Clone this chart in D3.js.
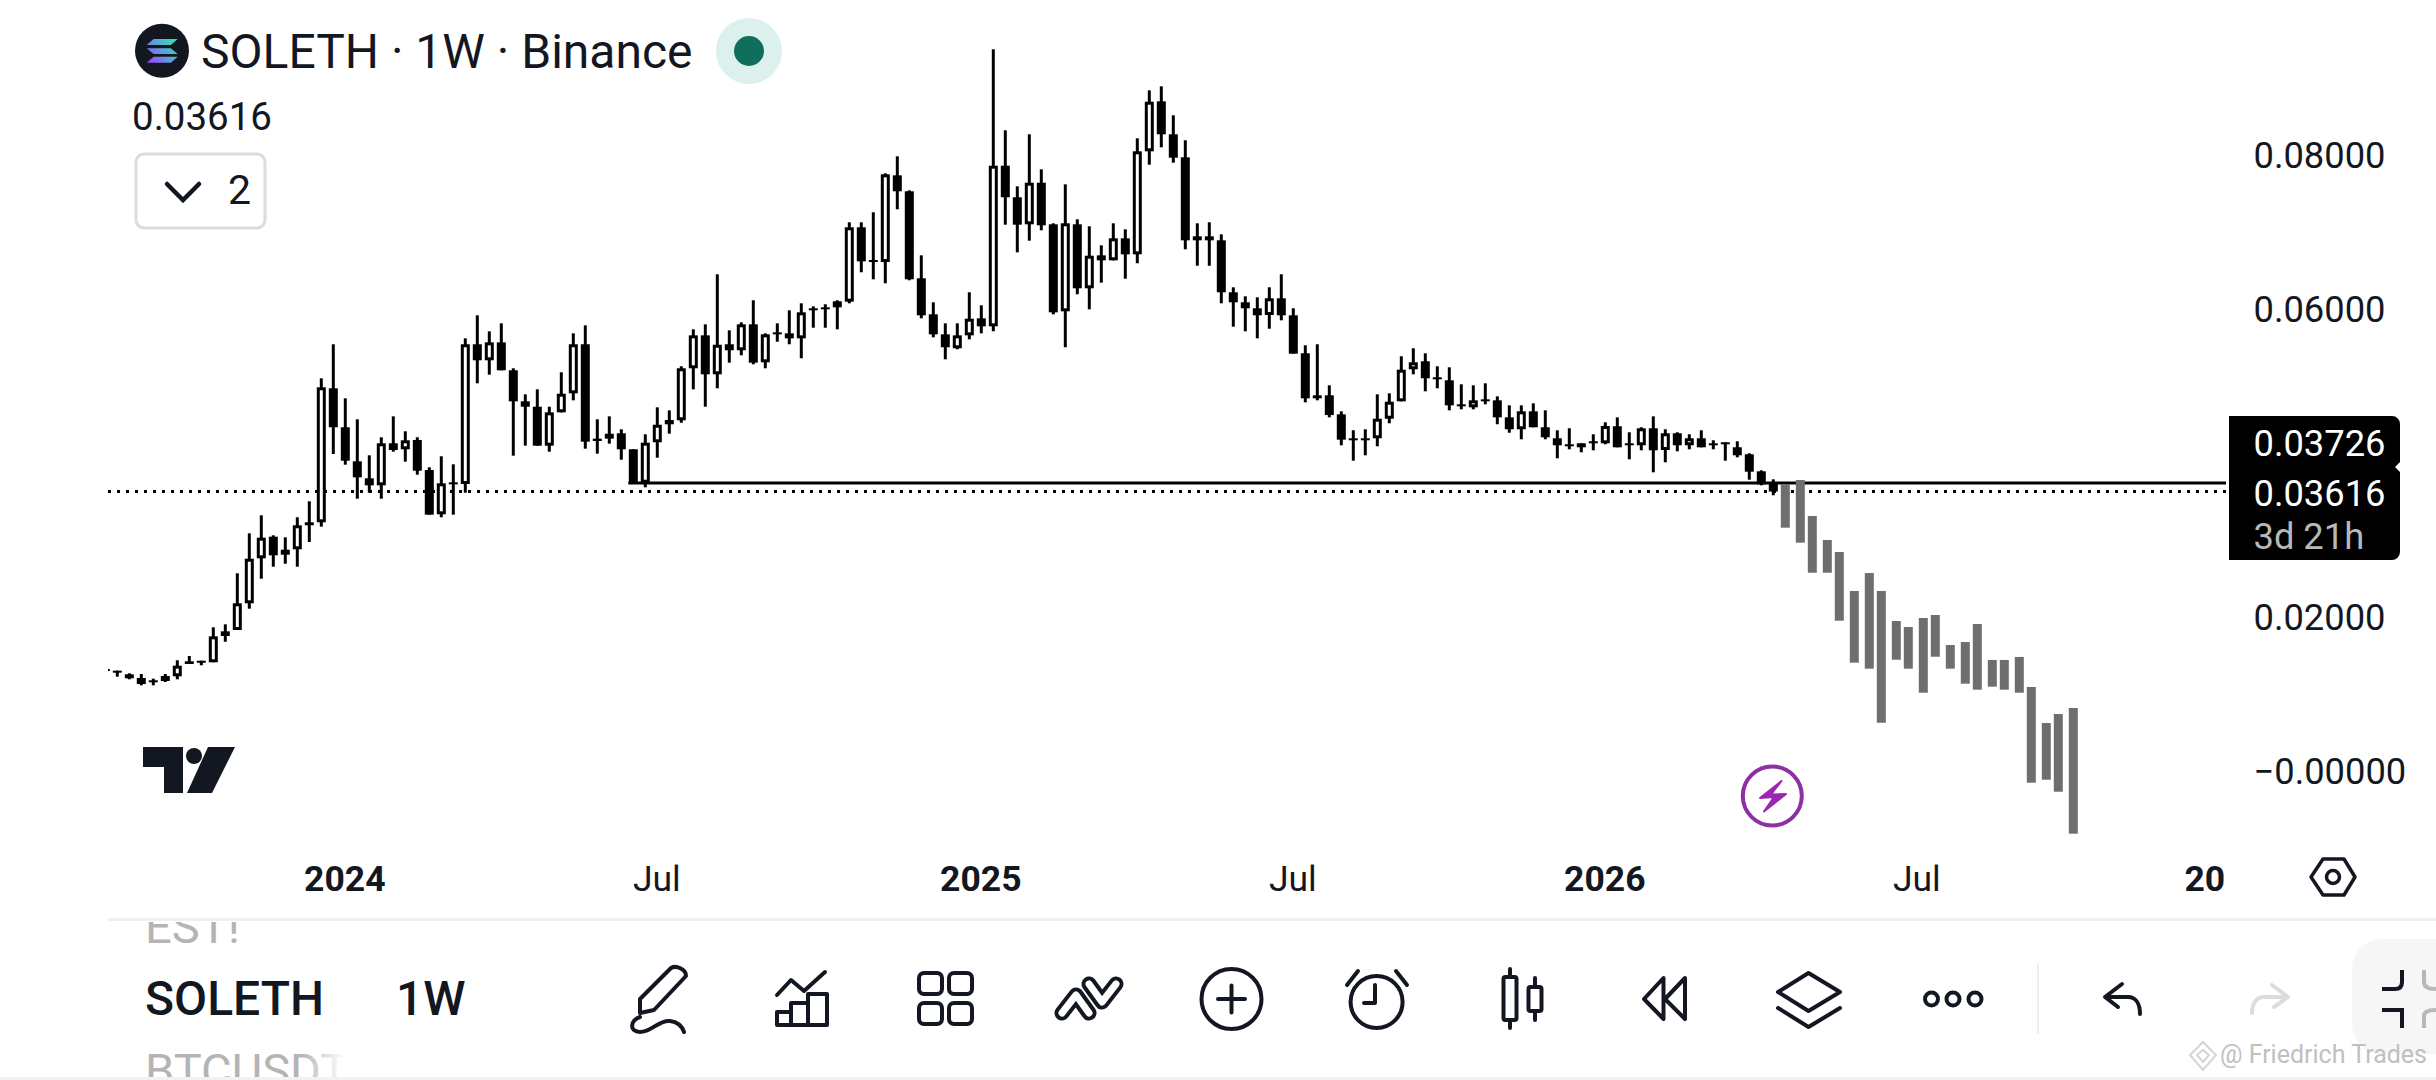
<!DOCTYPE html>
<html><head><meta charset="utf-8">
<script src="https://cdn.jsdelivr.net/npm/d3@7/dist/d3.min.js"></script>
<style>html,body{margin:0;padding:0;background:#fff}svg{display:block}text{font-family:Roboto,sans-serif}</style>
</head><body><svg id="c" width="2436" height="1080"></svg>
<script>
// Weekly candles, values in units of 0.00001 (SOL/ETH)
const highs=[1321,1290,1256,1247,1186,1247,1425,1481,1419,1853,
1892,2555,3074,3308,3048,3022,3282,3490,5087,5529,
4827,4555,4087,4321,4593,4399,4321,3931,4074,3970,
5606,5905,5697,5801,5217,4879,4944,4718,5165,5671,
5775,4555,4593,4425,4165,4360,4710,4671,5243,5723,
5788,6438,5710,5814,6100,5671,5801,5970,6061,6022,
6048,6100,7113,7113,7243,7749,7970,7528,6684,6074,
5801,5801,6204,6035,9360,8308,7580,8256,7801,7100,
7606,7152,7061,6814,7100,7022,8204,8827,8879,8503,
8178,7100,7113,6957,6269,6152,6139,6269,6438,5996,
5516,5529,4996,4658,4412,4425,4879,4892,5373,5477,
5412,5243,5230,5009,4996,5022,4853,4736,4736,4762,
4671,4412,4438,4243,4360,4516,4580,4386,4451,4593,
4425,4386,4360,4412,4282,4256,4269,4113,3892,3775];
const lows=[1290,1212,1178,1100,1100,1143,1178,1377,1360,1399,
1666,1818,2095,2484,2640,2679,2640,2961,3160,4104,
3965,3523,3601,3523,4134,4004,3835,3316,3282,3316,
3601,5022,5134,5191,4082,4212,4212,4134,4645,4801,
4173,4108,4238,4030,3731,3671,4056,4368,4510,4944,
4718,4957,5290,5386,5269,5217,5562,5529,5347,5744,
5744,5723,6061,6464,6373,6321,7282,6360,5866,5619,
5334,5464,5593,5671,5697,7082,6723,6874,7009,5918,
5490,6178,5983,6329,6619,6380,6581,7861,8087,7887,
6762,6549,6549,6061,5757,5697,5606,5731,5840,5407,
4775,4801,4580,4217,4017,4087,4204,4503,4788,5139,
4918,4957,4671,4684,4684,4749,4490,4380,4295,4451,
4295,4048,4165,4126,4152,4230,4191,4035,4152,3866,
3996,4139,4165,4191,4165,4017,4061,3770,3697,3568];
const opens=[1312,1290,1243,1195,1165,1221,1217,1412,1419,1399,
1740,1818,2165,2749,3030,2796,2866,3217,3217,4957,
4451,4009,3788,3697,4243,4165,4286,3896,3321,3736,
3714,5529,5321,5554,5191,4788,4718,4212,4645,4892,
5529,4303,4367,4373,4165,3731,4256,4545,4542,5217,
5645,5139,5529,5451,5788,5295,5684,5671,5606,5996,
6009,6009,6082,7048,6623,6597,7723,7516,6386,5918,
5658,5477,5645,5866,5762,7848,7438,7087,7627,7087,
5957,7087,6256,6684,6619,6905,6697,8035,8684,8256,
7957,6931,6931,6879,6204,6074,5996,5909,6126,5905,
5412,4866,4866,4619,4308,4308,4308,4562,4788,5204,
5308,5100,5061,4749,4710,4814,4801,4580,4425,4658,
4451,4308,4230,4243,4269,4243,4464,4243,4217,4438,
4156,4373,4217,4308,4243,4256,4191,4100,3879,3723];
const closes=[1299,1264,1191,1117,1139,1156,1355,1377,1394,1736,
1801,2165,2744,3017,2788,2861,3178,3178,4970,4451,
4017,3801,3697,4243,4156,4282,3887,3316,3723,3710,
5529,5321,5554,5191,4788,4718,4212,4645,4887,5529,
4264,4273,4303,4165,3731,4251,4484,4490,5217,5645,
5139,5523,5451,5788,5290,5658,5658,5606,5944,5970,
5987,6087,7048,6606,6597,7736,7516,6373,5905,5658,
5490,5645,5861,5762,7848,7438,7082,7627,7074,5944,
7100,6256,6679,6619,6905,6697,8035,8679,8256,7952,
6879,6879,6879,6204,6074,5996,5905,6126,5905,5407,
4827,4827,4610,4290,4282,4282,4562,4783,5199,5295,
5087,5074,4736,4723,4801,4788,4580,4425,4658,4451,
4321,4217,4204,4191,4243,4468,4191,4217,4438,4152,
4373,4217,4308,4191,4217,4230,4087,3874,3710,3616];
// Projected "bars pattern" (grey)
const projPos=[140,141.25,142.25,143.5,144.5,145.75,147,148,149.25,150.25,151.5,152.5,153.75,155,156,157.25,158.25,159.5,160.5,161.75,162.75,164];
const projTop=[3714,3766,3299,2987,2831,2325,2558,2325,1935,1857,1974,2013,1623,1662,1896,1429,1429,1468,1078,610,727,805];
const projBot=[3147,2952,2562,2562,1939,1394,1316,614,1432,1316,1004,1471,1316,1121,1043,1082,1043,1004,-165,-126,-282,-827];
const unit=1e-5;
const priceTicks=[0.08,0.06,0.02,0];
const priceLabels=["0.08000","0.06000","0.02000","\u22120.00000"];
const timeTicks=[20,46,73,99,125,151,175];
const timeLabels=["2024","Jul","2025","Jul","2026","Jul","20"];
const boldTicks=["2024","2025","2026","20"];
const levelPrice=0.03726, lastPrice=0.03616, levelStart=44;

const INK="#131722";
const svg=d3.select("#c");
const defs=svg.append("defs");
const x=d3.scaleLinear().domain([0,193]).range([105.3,105.3+12*193]);
const y=d3.scaleLinear().domain([0,0.08]).range([770,154]);
const PLOT_L=108,PLOT_R=2226;
defs.append("clipPath").attr("id","plot").append("rect").attr("x",PLOT_L).attr("y",0).attr("width",PLOT_R-PLOT_L).attr("height",900);

const plot=svg.append("g").attr("clip-path","url(#plot)");
// price lines
plot.append("line").attr("x1",PLOT_L).attr("x2",PLOT_R).attr("y1",y(lastPrice)).attr("y2",y(lastPrice))
  .attr("stroke","#000").attr("stroke-width",3).attr("stroke-dasharray","3 6");
plot.append("line").attr("x1",x(levelStart)-5).attr("x2",PLOT_R).attr("y1",y(levelPrice)).attr("y2",y(levelPrice))
  .attr("stroke","#000").attr("stroke-width",3);
// projection bars
plot.append("g").selectAll("rect").data(projPos).join("rect")
  .attr("x",d=>x(d)-4.5).attr("width",9)
  .attr("y",(d,i)=>y(projTop[i]*unit)).attr("height",(d,i)=>y(projBot[i]*unit)-y(projTop[i]*unit))
  .attr("fill","#6e6e6e");
// candles
const candles=highs.map((h,i)=>({i,h:h*unit,l:lows[i]*unit,o:opens[i]*unit,c:closes[i]*unit}));
const cg=plot.append("g").selectAll("g").data(candles).join("g");
cg.append("line").attr("x1",d=>x(d.i)).attr("x2",d=>x(d.i)).attr("y1",d=>y(d.h)).attr("y2",d=>y(d.l))
  .attr("stroke","#000").attr("stroke-width",3);
cg.append("rect")
  .attr("x",d=>d.c>=d.o?x(d.i)-3:x(d.i)-4.5)
  .attr("width",d=>d.c>=d.o?6:9)
  .attr("y",d=>{const t=y(Math.max(d.o,d.c));return d.c>=d.o?t+1.5:t;})
  .attr("height",d=>{const t=y(Math.max(d.o,d.c)),b=y(Math.min(d.o,d.c));return d.c>=d.o?Math.max(b-t-3,0.5):Math.max(b-t,2);})
  .attr("fill",d=>d.c>=d.o?"#fff":"#000")
  .attr("stroke",d=>d.c>=d.o?"#000":"none").attr("stroke-width",3);

// price axis
const yAxis=d3.axisRight(y).tickValues(priceTicks).tickFormat((d,i)=>priceLabels[i]).tickSize(0).tickPadding(0);
const yg=svg.append("g").attr("transform","translate(2253.5,1.5)").call(yAxis);
yg.select(".domain").remove();
yg.selectAll("text").attr("font-family","Roboto").attr("font-size",36.3).attr("fill",INK);
// time axis
const xAxis=d3.axisBottom(x).tickValues(timeTicks).tickFormat((d,i)=>timeLabels[i]).tickSize(0).tickPadding(0);
const xg=svg.append("g").attr("transform","translate(-1,878.5)").call(xAxis);
xg.select(".domain").remove();
xg.selectAll("text").attr("y",0).attr("dy","0.35em").attr("font-family","Roboto").attr("font-size",35.5).attr("fill",INK)
  .attr("font-weight",function(){return boldTicks.includes(this.textContent)?700:400;});

// last price tags
svg.append("path").attr("fill","#000")
 .attr("d","M2229 416H2392a8 8 0 0 1 8 8V462l-5 5 5 5V552a8 8 0 0 1 -8 8H2229Z");
const tagText=(s,yy,fill)=>svg.append("text").attr("x",2253.5).attr("y",yy).attr("dy","0.35em").attr("font-size",36.3).attr("fill",fill).text(s);
tagText("0.03726",443,"#fff");
tagText("0.03616",493.5,"#fff");
tagText("3d 21h",536.5,"#b8b8b8");

// header
svg.append("circle").attr("cx",162).attr("cy",50.7).attr("r",27).attr("fill",INK);
const lg=defs.append("linearGradient").attr("id","sol").attr("gradientUnits","userSpaceOnUse").attr("x1",176).attr("y1",38).attr("x2",148).attr("y2",63);
lg.append("stop").attr("offset",0).attr("stop-color","#2fe8a5");
lg.append("stop").attr("offset",.5).attr("stop-color","#5f9fdc");
lg.append("stop").attr("offset",1).attr("stop-color","#a23ffb");
svg.append("path").attr("fill","url(#sol)").attr("d","M153.6 39H177.7L170.8 45H146.7ZM146.7 48.3H170.8L177.7 54H153.6ZM153.6 56.7H177.7L170.8 62.7H146.7Z");
svg.append("text").attr("x",201).attr("y",67.5).attr("font-size",48).attr("fill",INK).text("SOLETH · 1W · Binance");
svg.append("circle").attr("cx",749).attr("cy",51).attr("r",33).attr("fill","#dcf0ed");
svg.append("circle").attr("cx",749).attr("cy",51).attr("r",15).attr("fill","#0f6e5c");
svg.append("text").attr("x",132).attr("y",129.5).attr("font-size",38.5).attr("fill",INK).text("0.03616");
svg.append("rect").attr("x",136).attr("y",154).attr("width",129).attr("height",74).attr("rx",8).attr("fill","#fff").attr("stroke","#dcdcdc").attr("stroke-width",3);
svg.append("path").attr("d","M167 184L183 200L199 184").attr("fill","none").attr("stroke",INK).attr("stroke-width",4.5).attr("stroke-linecap","round");
svg.append("text").attr("x",228).attr("y",204).attr("font-size",41).attr("fill",INK).text("2");

// TradingView logo
const tv=svg.append("g").attr("fill","#131722");
tv.append("path").attr("d","M143 747H183V793H164V767H143Z");
tv.append("circle").attr("cx",194).attr("cy",756).attr("r",8);
tv.append("path").attr("d","M208 747H235L212 793H187Z");

// bolt icon
svg.append("circle").attr("cx",1772.3).attr("cy",796).attr("r",29.5).attr("fill","#fff").attr("stroke","#8e2fa3").attr("stroke-width",4);
svg.append("path").attr("fill","#9c27b0").attr("stroke","#9c27b0").attr("stroke-width",2).attr("stroke-linejoin","round").attr("d","M1781.5 781L1760 798L1774 797L1764 811.5L1786 794L1771 794.5Z");

// hex settings
svg.append("path").attr("fill","none").attr("stroke",INK).attr("stroke-width",3.5).attr("stroke-linejoin","round").attr("d","M2311 877L2323 859H2344L2355 877L2344 895H2323Z");
svg.append("circle").attr("cx",2333).attr("cy",877).attr("r",6.5).attr("fill","none").attr("stroke",INK).attr("stroke-width",3.5);

// separators
svg.append("rect").attr("x",108).attr("y",918).attr("width",2328).attr("height",3).attr("fill","#f0f0f0");
svg.append("rect").attr("x",0).attr("y",1077).attr("width",2436).attr("height",3).attr("fill","#f2f2f2");

// toolbar left text
defs.append("clipPath").attr("id","tb").append("rect").attr("x",140).attr("y",922).attr("width",360).attr("height",155);
const fade=defs.append("linearGradient").attr("id","fadeR").attr("gradientUnits","userSpaceOnUse").attr("x1",300).attr("x2",345).attr("y1",0).attr("y2",0);
fade.append("stop").attr("offset",0).attr("stop-color","#b4b4b4");fade.append("stop").attr("offset",1).attr("stop-color","#fff");
const tb=svg.append("g").attr("clip-path","url(#tb)");
tb.append("text").attr("x",145).attr("y",943).attr("font-size",47).attr("fill","#b4b4b4").text("EST!");
tb.append("text").attr("x",145).attr("y",1015).attr("font-size",48).attr("font-weight",500).attr("fill",INK).text("SOLETH");
tb.append("text").attr("x",396).attr("y",1015).attr("font-size",48).attr("font-weight",500).attr("fill",INK).text("1W");
tb.append("text").attr("x",145).attr("y",1087).attr("font-size",47).attr("fill","url(#fadeR)").text("BTCUSDT");

// toolbar icons
const ic=svg.append("g").attr("fill","none").attr("stroke",INK).attr("stroke-width",4).attr("stroke-linejoin","round").attr("stroke-linecap","round");
ic.append("path").attr("d","M640 1013V999L671 968C676 965 686 969 686 976L654 1010Z");
ic.append("path").attr("d","M640 1017C630 1020 629 1032 640 1032C652 1032 658 1020 670 1021C678 1022 682 1026 684 1032");
ic.append("path").attr("d","M777 995L791 980L804 991L825 972");
ic.append("path").attr("d","M777 1025V1012H791V1025ZM791 1025V1003H808V1025ZM808 1025V994H827V1025Z");
ic.selectAll("rect.g").data([[919,973],[949,973],[919,1003],[949,1003]]).join("rect")
  .attr("x",d=>d[0]).attr("y",d=>d[1]).attr("width",23).attr("height",21).attr("rx",5);
const zig="M1062 1013L1076 995L1089 1013";
const zag="M1089 984L1102 1002L1116 984";
[zig,zag].forEach(p=>{
  ic.append("path").attr("d",p).attr("stroke-width",15);
  ic.append("path").attr("d",p).attr("stroke-width",7).attr("stroke","#fff");
});
ic.append("circle").attr("cx",1231.5).attr("cy",999).attr("r",30);
ic.append("path").attr("d","M1218 999H1245M1231.5 985.5V1012.5");
ic.append("circle").attr("cx",1376.6).attr("cy",1002).attr("r",26);
ic.append("path").attr("d","M1375 985V1003H1364M1358 971L1347 985M1396 971L1407 985");
ic.append("path").attr("d","M1510 969V977M1510 1020V1028M1535 978V987M1535 1011V1020");
ic.append("rect").attr("x",1503.5).attr("y",977).attr("width",13).attr("height",43).attr("rx",2);
ic.append("rect").attr("x",1528.5).attr("y",987).attr("width",13).attr("height",24).attr("rx",2);
ic.append("path").attr("d","M1663.5 978L1644 999L1663.5 1019ZM1685 978L1665 999L1685 1019Z");
ic.append("path").attr("d","M1808.5 973L1840 992L1808.5 1011L1778 992Z");
ic.append("path").attr("d","M1778 1008L1808.5 1027L1840 1008");
[1931.5,1953,1975].forEach(cx=>ic.append("circle").attr("cx",cx).attr("cy",999).attr("r",6.5));
ic.append("path").attr("d","M2122 984L2105 997L2118 1007M2105 997H2128C2136 997 2140 1004 2140 1014");
svg.append("path").attr("d","M2272 985L2288 997L2274 1007M2288 997H2264C2256 997 2252 1004 2252 1013").attr("fill","none").attr("stroke","#dcdcdc").attr("stroke-width",4).attr("stroke-linecap","round").attr("stroke-linejoin","round");
svg.append("rect").attr("x",2037).attr("y",963).attr("width",2).attr("height",71).attr("fill","#eeeeee");
// right button
svg.append("rect").attr("x",2352).attr("y",939).attr("width",120).attr("height",115).attr("rx",30).attr("fill","#f6f6f6");
svg.append("path").attr("d","M2402 970V982Q2402 989 2395 989H2382M2382 1010H2402V1028").attr("fill","none").attr("stroke",INK).attr("stroke-width",4);
svg.append("path").attr("d","M2424 970V982Q2424 989 2436 989M2436 1010Q2424 1010 2424 1016V1028").attr("fill","none").attr("stroke","#b8b8b8").attr("stroke-width",4);
// watermark
svg.append("path").attr("d","M2203 1042L2216 1055L2203 1070L2190 1055ZM2203 1050L2209 1055L2203 1062L2197 1055Z").attr("fill","none").attr("stroke","#d4d4d4").attr("stroke-width",2);
svg.append("text").attr("x",2220).attr("y",1063).attr("font-size",25).attr("fill","#c0c0c0").text("@ Friedrich Trades");
</script></body></html>
